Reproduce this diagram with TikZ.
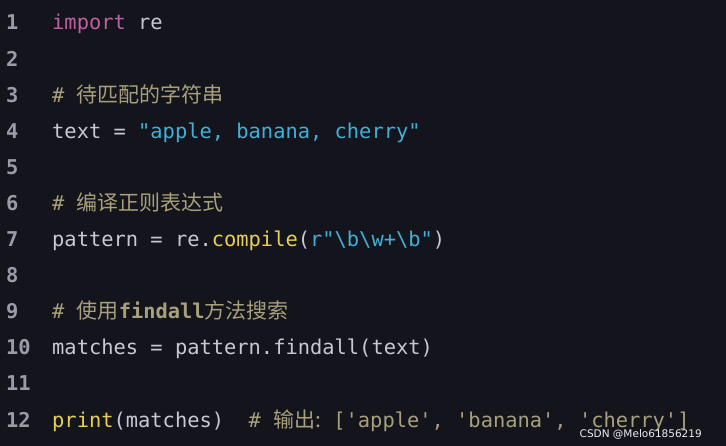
\documentclass[tikz,border=0pt]{standalone}
\usepackage{fontspec}
\setmonofont{DejaVu Sans Mono}
\newfontfamily\cjk{Noto Sans CJK SC}
\newfontfamily\wm{DejaVu Sans}
\definecolor{bg}{HTML}{14141C}
\definecolor{kw}{HTML}{C060A0}
\definecolor{df}{HTML}{C8C8D0}
\definecolor{st}{HTML}{40B0D8}
\definecolor{fn}{HTML}{E8D050}
\definecolor{cm}{HTML}{A8A07C}
\definecolor{ln}{HTML}{9A9AA8}
\begin{document}
\begin{tikzpicture}[x=1pt,y=-1pt,
  code/.style={anchor=base west,inner sep=0pt,font=\ttfamily\fontsize{20.4}{24}\selectfont,text=df},
  num/.style={anchor=base west,inner sep=0pt,font=\ttfamily\bfseries\fontsize{20.4}{24}\selectfont,text=ln}]
\fill[bg] (0,0) rectangle (726,446);
\useasboundingbox (0,0) rectangle (726,446);
\foreach \i in {1,...,12} {
  \node[num] (n\i) at (6,{30+36.1*(\i-1)}) {\i};
}
\node[code] (l1) at (52,30) {\textcolor{kw}{import} re};
\node[code] (l3) at (52,{30+36.1*2}) {\textcolor{cm}{\# {\cjk\fontsize{21}{24}\selectfont 待匹配的字符串}}};
\node[code] (l4) at (52,{30+36.1*3}) {text = \textcolor{st}{"apple, banana, cherry"}};
\node[code] (l6) at (52,{30+36.1*5}) {\textcolor{cm}{\# {\cjk\fontsize{21}{24}\selectfont 编译正则表达式}}};
\node[code] (l7) at (52,{30+36.1*6}) {pattern = re.\textcolor{fn}{compile}(\textcolor{st}{r"\textbackslash b\textbackslash w+\textbackslash b"})};
\node[code] (l9) at (52,{30+36.1*8}) {\textcolor{cm}{\# {\cjk\fontsize{21}{24}\selectfont 使用}\textbf{findall}{\cjk\fontsize{21}{24}\selectfont 方法搜索}}};
\node[code] (l10) at (52,{30+36.1*9}) {matches = pattern.findall(text)};
\node[code] (l12) at (52,{30+36.1*11}) {\textcolor{fn}{print}(matches)\ \ \textcolor{cm}{\# {\cjk\fontsize{21}{24}\selectfont 输出:} ['apple', 'banana', 'cherry']}};
\node[anchor=base east,inner sep=0pt,font=\wm\fontsize{10.5}{12}\selectfont,text=white!85!gray] (wm) at (702,437) {CSDN @Melo61856219};
\end{tikzpicture}
\end{document}
